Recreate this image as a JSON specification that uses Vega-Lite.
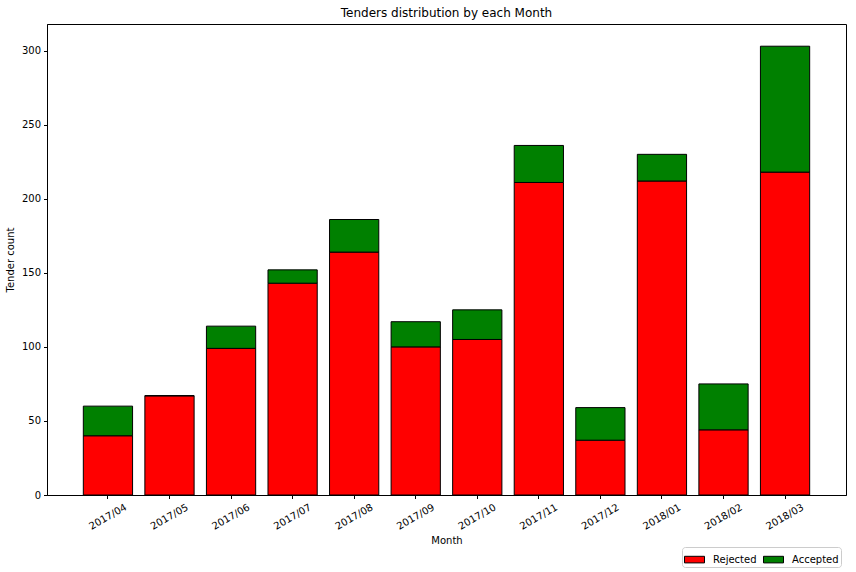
{
  "$schema": "https://vega.github.io/schema/vega-lite/v6.json",
  "width": 799,
  "height": 471,
  "autosize": {"type": "none"},
  "padding": {"left": 47, "top": 24, "right": 10, "bottom": 77},
  "background": "white",
  "title": {"text": "Tenders distribution by each Month", "font": "DejaVu Sans", "fontSize": 12, "fontWeight": "normal", "color": "black", "offset": 4},
  "config": {
    "font": "DejaVu Sans",
    "view": {"stroke": "black", "strokeWidth": 1}
  },
  "data": {"values": [
    {"month": "2017/04", "status": "Rejected", "count": 40},
    {"month": "2017/04", "status": "Accepted", "count": 20},
    {"month": "2017/05", "status": "Rejected", "count": 67},
    {"month": "2017/05", "status": "Accepted", "count": 0},
    {"month": "2017/06", "status": "Rejected", "count": 99},
    {"month": "2017/06", "status": "Accepted", "count": 15},
    {"month": "2017/07", "status": "Rejected", "count": 143},
    {"month": "2017/07", "status": "Accepted", "count": 9},
    {"month": "2017/08", "status": "Rejected", "count": 164},
    {"month": "2017/08", "status": "Accepted", "count": 22},
    {"month": "2017/09", "status": "Rejected", "count": 100},
    {"month": "2017/09", "status": "Accepted", "count": 17},
    {"month": "2017/10", "status": "Rejected", "count": 105},
    {"month": "2017/10", "status": "Accepted", "count": 20},
    {"month": "2017/11", "status": "Rejected", "count": 211},
    {"month": "2017/11", "status": "Accepted", "count": 25},
    {"month": "2017/12", "status": "Rejected", "count": 37},
    {"month": "2017/12", "status": "Accepted", "count": 22},
    {"month": "2018/01", "status": "Rejected", "count": 212},
    {"month": "2018/01", "status": "Accepted", "count": 18},
    {"month": "2018/02", "status": "Rejected", "count": 44},
    {"month": "2018/02", "status": "Accepted", "count": 31},
    {"month": "2018/03", "status": "Rejected", "count": 218},
    {"month": "2018/03", "status": "Accepted", "count": 85}
  ]},
  "mark": {"type": "bar", "stroke": "black", "strokeWidth": 1},
  "encoding": {
    "x": {
      "field": "month", "type": "ordinal",
      "scale": {"paddingInner": 0.2, "paddingOuter": 0.59},
      "axis": {
        "title": "Month", "titleFont": "DejaVu Sans", "titleFontSize": 10, "titleFontWeight": "normal", "titleColor": "black", "titlePadding": 4,
        "labelAngle": -30, "labelAlign": "center", "labelBaseline": "middle", "labelFont": "DejaVu Sans", "labelFontSize": 10, "labelColor": "black", "labelPadding": 18,
        "domainColor": "black", "tickColor": "black", "tickSize": 3.5, "grid": false
      }
    },
    "y": {
      "field": "count", "type": "quantitative", "stack": "zero",
      "scale": {"domain": [0, 318], "nice": false},
      "axis": {
        "title": "Tender count", "titleFont": "DejaVu Sans", "titleFontSize": 10, "titleFontWeight": "normal", "titleColor": "black", "titlePadding": 6,
        "values": [0, 50, 100, 150, 200, 250, 300],
        "labelFont": "DejaVu Sans", "labelFontSize": 10, "labelColor": "black", "labelPadding": 3,
        "domainColor": "black", "tickColor": "black", "tickSize": 3.5, "grid": false
      }
    },
    "color": {
      "field": "status", "type": "nominal",
      "scale": {"domain": ["Rejected", "Accepted"], "range": ["#ff0000", "#008000"]},
      "legend": {
        "title": null, "orient": "none", "legendX": 635, "legendY": 523, "direction": "horizontal",
        "symbolType": "M-1,-0.33H1V0.33H-1Z", "symbolSize": 400, "symbolStrokeColor": "black", "symbolStrokeWidth": 1, "symbolOpacity": 1,
        "labelFont": "DejaVu Sans", "labelFontSize": 10, "labelColor": "black", "labelOffset": 8,
        "fillColor": "white", "strokeColor": "#cccccc", "padding": 2, "cornerRadius": 3, "columnPadding": 4
      }
    },
    "order": {"field": "status", "sort": "descending"}
  }
}
